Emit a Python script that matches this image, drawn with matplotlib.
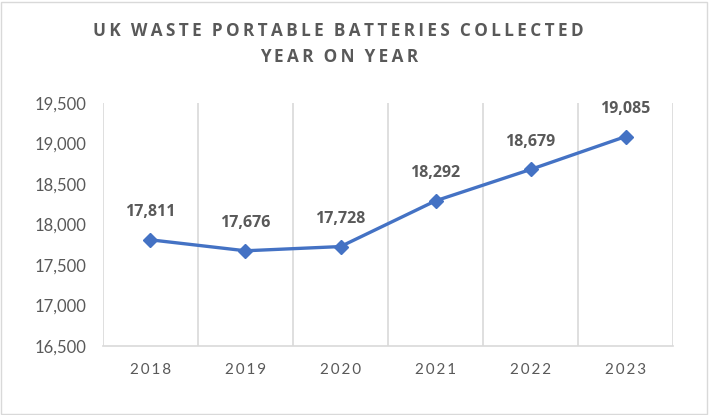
import matplotlib.pyplot as plt
from matplotlib.patches import Rectangle

years = ['2018', '2019', '2020', '2021', '2022', '2023']
collected = [17811, 17676, 17728, 18292, 18679, 19085]
y_ticks = [16500, 17000, 17500, 18000, 18500, 19000, 19500]

LINE = '#4472C4'
GRID = '#D9D9D9'
TEXT = '#595959'
fam = ['Open Sans', 'DejaVu Sans']


def spaced(s, gap='\u2009'):
    # mimic Excel's character spacing
    return gap.join(s).replace(gap + ' ' + gap, gap * 3)


fig = plt.figure(figsize=(7.1, 4.15), dpi=100)
ax = fig.add_axes([0.145, 0.166, 0.803, 0.586])

x = list(range(len(years)))
ax.plot(x, collected, color=LINE, lw=2.4, marker='D', ms=7, zorder=3)

for xi, v in zip(x, collected):
    ax.annotate(f'{v:,}', (xi, v), xytext=(0, 20), textcoords='offset points',
                ha='center', va='center', fontsize=11.5, fontweight='bold',
                color=TEXT, family=fam)

ax.set_xlim(-0.5, len(years) - 0.5)
ax.set_ylim(y_ticks[0], y_ticks[-1])
ax.set_yticks(y_ticks)
ax.set_yticklabels([f'{t:,}' for t in y_ticks], family='Lato', fontsize=12, color=TEXT)
ax.set_xticks(x)
ax.set_xticklabels([spaced(y) for y in years], family='Lato', fontsize=11, color=TEXT)

# category boundaries as vertical gridlines
for b in [i - 0.5 for i in range(len(years) + 1)]:
    ax.axvline(b, color=GRID, lw=1.2, zorder=1)
ax.tick_params(axis='x', length=0, pad=12)
ax.tick_params(axis='y', length=0, pad=12)

for s in ['top', 'right', 'left']:
    ax.spines[s].set_visible(False)
ax.spines['bottom'].set_color(GRID)
ax.spines['bottom'].set_linewidth(1.2)

fig.text(0.477, 0.925, spaced('UK WASTE PORTABLE BATTERIES COLLECTED'),
         ha='center', va='center', fontsize=12.3, fontweight='bold', color=TEXT, family=fam)
fig.text(0.477, 0.862, spaced('YEAR ON YEAR'),
         ha='center', va='center', fontsize=12.3, fontweight='bold', color=TEXT, family=fam)

fig.patches.append(Rectangle((0.002, 0.003), 0.994, 0.993, transform=fig.transFigure,
                             fill=False, edgecolor=GRID, lw=1))

fig.savefig('out.png', dpi=100)
